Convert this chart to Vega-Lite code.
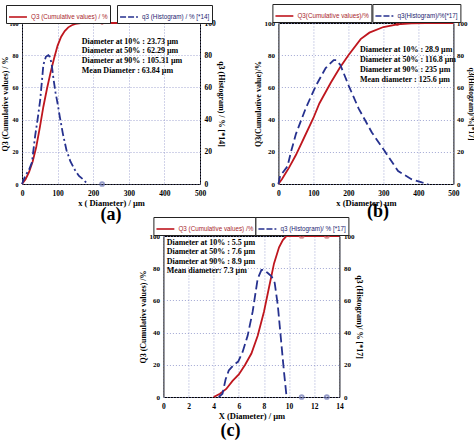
{
  "$schema": "https://vega.github.io/schema/vega-lite/v6.json",
  "padding": {"left": 0, "top": 3, "right": 0, "bottom": 0},
  "background": "white",
  "config": {
    "view": {"stroke": "black", "strokeWidth": 1},
    "font": "Liberation Serif",
    "axis": {"labelFont": "Liberation Serif", "labelFontWeight": "bold", "labelFontSize": 7, "labelColor": "black", "titleFont": "Liberation Serif", "titleFontWeight": "bold", "titleFontSize": 8, "titleColor": "black", "ticks": false, "domain": false, "gridColor": "#8a90c8", "gridDash": [1, 2], "gridWidth": 0.8, "labelPadding": 4, "titlePadding": 1, "labelOverlap": false, "labelFlush": false, "labelBound": false, "format": "d"},
    "axisX": {"labelFontSize": 7.5, "titleFontSize": 8.5, "labelPadding": 5, "titlePadding": 2},
    "legend": {"strokeColor": "#222", "fillColor": "white", "padding": 2, "labelFont": "Liberation Sans", "labelFontSize": 6.3, "symbolType": "stroke", "symbolSize": 320, "symbolStrokeWidth": 1.6, "labelOffset": 3},
    "title": {"font": "Liberation Serif", "fontWeight": "bold", "fontSize": 18, "orient": "bottom", "offset": -1}
  },
  "spacing": -9,
  "resolve": {"scale": {"color": "independent", "stroke": "independent"}},
  "vconcat": [
    {
      "hconcat": [
        {
          "width": 178, "height": 161,
          "title": {"text": "(a)", "orient": "bottom"},
          "resolve": {"scale": {"y": "independent"}},
          "layer": [
            {
              "data": {"values": [
                {"x": 0, "y": 0}, {"x": 10, "y": 3}, {"x": 20, "y": 7.5}, {"x": 30, "y": 14}, {"x": 40, "y": 23}, {"x": 50, "y": 35}, {"x": 60, "y": 48}, {"x": 70, "y": 59}, {"x": 80, "y": 69}, {"x": 90, "y": 78}, {"x": 100, "y": 86}, {"x": 110, "y": 91.5}, {"x": 120, "y": 95}, {"x": 130, "y": 97.3}, {"x": 140, "y": 98.6}, {"x": 150, "y": 99.4}, {"x": 165, "y": 99.9}, {"x": 180, "y": 100}, {"x": 225, "y": 100}, {"x": 300, "y": 100}, {"x": 400, "y": 100}, {"x": 500, "y": 100}
              ]},
              "layer": [
                {
                  "mark": {"type": "line", "strokeWidth": 1.8},
                  "encoding": {
                    "x": {"field": "x", "type": "quantitative", "scale": {"domain": [0, 500], "nice": false}, "axis": {"values": [0, 100, 200, 300, 400, 500], "tickCount": 20, "format": "d", "title": "x ( Diameter) / µm", "grid": true}},
                    "y": {"field": "y", "type": "quantitative", "scale": {"domain": [0, 100], "nice": false}, "axis": {"values": [0, 20, 40, 60, 80, 100], "tickCount": 20, "format": "d", "title": "Q3 (Cumulative values) / %", "grid": true, "labelFontSize": 6, "titlePadding": 0}},
                    "color": {"datum": "Q3 (Cumulative values) / %", "scale": {"range": ["#bf161e"]}, "legend": {"title": null, "orient": "none", "legendX": -16, "legendY": -18, "labelColor": "#a8262b"}}
                  }
                },
                {
                  "data": {"values": [{"x": 225, "y": 100}]},
                  "mark": {"type": "point", "size": 12, "filled": true, "color": "#bf161e"},
                  "encoding": {"x": {"field": "x", "type": "quantitative"}, "y": {"field": "y", "type": "quantitative"}}
                },
                {
                  "data": {"values": [{}]},
                  "mark": {"type": "text", "align": "left", "baseline": "top", "font": "Liberation Serif", "fontWeight": "bold", "fontSize": 8, "lineHeight": 9.7, "color": "black"},
                  "encoding": {
                    "x": {"datum": 168, "type": "quantitative"},
                    "y": {"datum": 90.8, "type": "quantitative"},
                    "text": {"value": ["Diameter at 10% :   23.73 µm", "Diameter at 50% :   62.29 µm", "Diameter at 90% : 105.31 µm", "Mean Diameter     :   63.84 µm"]}
                  }
                }
              ]
            },
            {
              "data": {"values": [
                {"x": 0, "y": 0}, {"x": 9, "y": 5}, {"x": 20, "y": 9}, {"x": 28, "y": 13.5}, {"x": 37, "y": 30}, {"x": 45, "y": 42}, {"x": 51, "y": 52}, {"x": 56, "y": 64}, {"x": 60, "y": 74}, {"x": 67, "y": 79}, {"x": 74, "y": 80}, {"x": 78, "y": 79}, {"x": 83, "y": 75}, {"x": 88, "y": 66}, {"x": 94, "y": 57}, {"x": 100, "y": 50}, {"x": 106, "y": 42}, {"x": 115, "y": 31}, {"x": 125, "y": 21}, {"x": 136, "y": 14}, {"x": 148, "y": 9}, {"x": 160, "y": 5}, {"x": 171, "y": 3}, {"x": 180, "y": 1}, {"x": 186, "y": 0}
              ]},
              "layer": [
                {
                  "mark": {"type": "line", "strokeWidth": 1.8, "strokeDash": [8, 3, 2, 3]},
                  "encoding": {
                    "x": {"field": "x", "type": "quantitative"},
                    "y": {"field": "y", "type": "quantitative", "scale": {"domain": [0, 100], "nice": false}, "axis": {"orient": "right", "values": [0, 20, 40, 60, 80, 100], "tickCount": 20, "format": "d", "title": "q3 (Histogram) / % [*14]", "grid": false, "labelFontSize": 7.5}},
                    "stroke": {"datum": "q3 (Histogram) / % [*14]", "scale": {"range": ["#26318f"]}, "legend": {"title": null, "orient": "none", "legendX": 95, "legendY": -18, "labelColor": "#1d2470", "symbolDash": [6, 2]}}
                  }
                },
                {
                  "data": {"values": [{"x": 225, "y": 0}]},
                  "mark": {"type": "point", "size": 14, "color": "#6a73b3"},
                  "encoding": {"x": {"field": "x", "type": "quantitative"}, "y": {"field": "y", "type": "quantitative"}}
                }
              ]
            }
          ]
        },
        {
          "width": 175, "height": 161,
          "title": {"text": "(b)", "orient": "bottom", "dx": 12, "dy": -3},
          "resolve": {"scale": {"y": "independent"}},
          "layer": [
            {
              "data": {"values": [
                {"x": 0, "y": 0}, {"x": 10, "y": 3}, {"x": 20, "y": 6.5}, {"x": 30, "y": 10}, {"x": 50, "y": 18}, {"x": 75, "y": 29.5}, {"x": 100, "y": 41}, {"x": 117, "y": 50}, {"x": 150, "y": 63}, {"x": 175, "y": 72}, {"x": 200, "y": 80}, {"x": 235, "y": 90}, {"x": 260, "y": 94}, {"x": 300, "y": 97.5}, {"x": 340, "y": 99.2}, {"x": 380, "y": 99.8}, {"x": 420, "y": 100}, {"x": 500, "y": 100}
              ]},
              "layer": [
                {
                  "mark": {"type": "line", "strokeWidth": 1.8},
                  "encoding": {
                    "x": {"field": "x", "type": "quantitative", "scale": {"domain": [0, 500], "nice": false}, "axis": {"values": [0, 100, 200, 300, 400, 500], "tickCount": 20, "format": "d", "title": "x (Diameter) µm", "grid": true}},
                    "y": {"field": "y", "type": "quantitative", "scale": {"domain": [0, 100], "nice": false}, "axis": {"values": [0, 20, 40, 60, 80, 100], "tickCount": 20, "format": "d", "title": "Q3(Cumulative value)/%", "grid": true}},
                    "color": {"datum": "Q3(Cumulative values)/%", "scale": {"range": ["#bf161e"]}, "legend": {"title": null, "orient": "none", "legendX": -6, "legendY": -19, "labelColor": "#a8262b"}}
                  }
                },
                {
                  "data": {"values": [{"x": 340, "y": 99.2}]},
                  "mark": {"type": "point", "size": 12, "filled": true, "color": "#bf161e"},
                  "encoding": {"x": {"field": "x", "type": "quantitative"}, "y": {"field": "y", "type": "quantitative"}}
                },
                {
                  "data": {"values": [{}]},
                  "mark": {"type": "text", "align": "left", "baseline": "top", "font": "Liberation Serif", "fontWeight": "bold", "fontSize": 8, "lineHeight": 10, "color": "black"},
                  "encoding": {
                    "x": {"datum": 233, "type": "quantitative"},
                    "y": {"datum": 85.9, "type": "quantitative"},
                    "text": {"value": ["Diameter at 10% : 28.9  µm", "Diameter at 50% : 116.8 µm", "Diameter at 90% : 235   µm", "Mean diameter    : 125.6 µm"]}
                  }
                }
              ]
            },
            {
              "data": {"values": [
                {"x": 0, "y": 0}, {"x": 5, "y": 5}, {"x": 12, "y": 7}, {"x": 26, "y": 11}, {"x": 36, "y": 20}, {"x": 50, "y": 31}, {"x": 78, "y": 47}, {"x": 107, "y": 61}, {"x": 135, "y": 72}, {"x": 158, "y": 77}, {"x": 165, "y": 77}, {"x": 177, "y": 74}, {"x": 201, "y": 61}, {"x": 229, "y": 47}, {"x": 267, "y": 32}, {"x": 305, "y": 20}, {"x": 342, "y": 8}, {"x": 380, "y": 3}, {"x": 410, "y": 1}, {"x": 428, "y": 0}
              ]},
              "layer": [
                {
                  "mark": {"type": "line", "strokeWidth": 1.8, "strokeDash": [8, 4]},
                  "encoding": {
                    "x": {"field": "x", "type": "quantitative"},
                    "y": {"field": "y", "type": "quantitative", "scale": {"domain": [0, 100], "nice": false}, "axis": {"orient": "right", "values": [0, 20, 40, 60, 80, 100], "tickCount": 20, "format": "d", "title": "q3(Histogram)/%[*17]", "titlePadding": 0, "titleFontSize": 7.5, "labelPadding": 3, "grid": false}},
                    "stroke": {"datum": "q3(Histogram)/%[*17]", "scale": {"range": ["#26318f"]}, "legend": {"title": null, "orient": "none", "legendX": 94, "legendY": -19, "labelColor": "#1d2470", "symbolDash": [6, 2]}}
                  }
                }
              ]
            }
          ]
        }
      ],
      "spacing": 78.4,
      "bounds": "flush",
      "resolve": {"scale": {"color": "independent", "stroke": "independent"}}
    },
    {
      "hconcat": [
        {
          "width": 1, "height": 1,
          "view": {"stroke": null},
          "data": {"values": []},
          "mark": {"type": "point", "opacity": 0},
          "encoding": {}
        },
        {
          "width": 176, "height": 161,
          "title": {"text": "(c)", "orient": "bottom", "dx": -21, "dy": 3},
          "resolve": {"scale": {"y": "independent"}},
          "layer": [
            {
              "data": {"values": [
                {"x": 4, "y": 0}, {"x": 4.5, "y": 2}, {"x": 5, "y": 5}, {"x": 5.5, "y": 10}, {"x": 6, "y": 14}, {"x": 6.5, "y": 20}, {"x": 7, "y": 27}, {"x": 7.5, "y": 38}, {"x": 8, "y": 53}, {"x": 8.4, "y": 68}, {"x": 8.8, "y": 83}, {"x": 9.2, "y": 93}, {"x": 9.5, "y": 97.5}, {"x": 9.8, "y": 100}, {"x": 11, "y": 100}, {"x": 13, "y": 100}, {"x": 14, "y": 100}
              ]},
              "layer": [
                {
                  "mark": {"type": "line", "strokeWidth": 1.8},
                  "encoding": {
                    "x": {"field": "x", "type": "quantitative", "scale": {"domain": [0, 14], "nice": false}, "axis": {"values": [0, 2, 4, 6, 8, 10, 12, 14], "tickCount": 20, "format": "d", "title": "X (Diameter) / µm", "grid": true}},
                    "y": {"field": "y", "type": "quantitative", "scale": {"domain": [0, 100], "nice": false}, "axis": {"values": [0, 20, 40, 60, 80, 100], "tickCount": 20, "format": "d", "title": "Q3 (Cumulative values) /%", "grid": true}},
                    "color": {"datum": "Q3 (Cumulative values) /%", "scale": {"range": ["#bf161e"]}, "legend": {"title": null, "orient": "none", "legendX": -10, "legendY": -19, "labelColor": "#a8262b"}}
                  }
                },
                {
                  "data": {"values": [{"x": 11, "y": 100}, {"x": 13, "y": 100}]},
                  "mark": {"type": "point", "size": 14, "color": "#c96a6e"},
                  "encoding": {"x": {"field": "x", "type": "quantitative"}, "y": {"field": "y", "type": "quantitative"}}
                },
                {
                  "data": {"values": [{}]},
                  "mark": {"type": "text", "align": "left", "baseline": "top", "font": "Liberation Serif", "fontWeight": "bold", "fontSize": 8, "lineHeight": 9.3, "color": "black"},
                  "encoding": {
                    "x": {"datum": 0.26, "type": "quantitative"},
                    "y": {"datum": 98.1, "type": "quantitative"},
                    "text": {"value": ["Diameter at 10% : 5.5 µm", "Diameter at 50% : 7.6 µm", "Diameter at 90% : 8.9 µm", "Mean diameter:      7.3 µm"]}
                  }
                }
              ]
            },
            {
              "data": {"values": [
                {"x": 4.4, "y": 0}, {"x": 4.7, "y": 2}, {"x": 4.95, "y": 11}, {"x": 5.2, "y": 16.5}, {"x": 5.6, "y": 20}, {"x": 5.95, "y": 22}, {"x": 6.3, "y": 28}, {"x": 6.7, "y": 38}, {"x": 7.1, "y": 53}, {"x": 7.5, "y": 73.5}, {"x": 7.8, "y": 79}, {"x": 8.0, "y": 79}, {"x": 8.3, "y": 77}, {"x": 8.6, "y": 75}, {"x": 8.85, "y": 71}, {"x": 9.1, "y": 57}, {"x": 9.35, "y": 36}, {"x": 9.6, "y": 15}, {"x": 9.8, "y": 0}
              ]},
              "layer": [
                {
                  "mark": {"type": "line", "strokeWidth": 1.8, "strokeDash": [9, 4]},
                  "encoding": {
                    "x": {"field": "x", "type": "quantitative"},
                    "y": {"field": "y", "type": "quantitative", "scale": {"domain": [0, 100], "nice": false}, "axis": {"orient": "right", "values": [0, 20, 40, 60, 80, 100], "tickCount": 20, "format": "d", "title": "q3 (Histogram)/ % [*17]", "grid": false}},
                    "stroke": {"datum": "q3 (Histogram)/ % [*17]", "scale": {"range": ["#26318f"]}, "legend": {"title": null, "orient": "none", "legendX": 92, "legendY": -19, "labelColor": "#1d2470", "symbolDash": [6, 2]}}
                  }
                },
                {
                  "data": {"values": [{"x": 11, "y": 0}, {"x": 13, "y": 0}]},
                  "mark": {"type": "point", "size": 14, "color": "#6a73b3"},
                  "encoding": {"x": {"field": "x", "type": "quantitative"}, "y": {"field": "y", "type": "quantitative"}}
                }
              ]
            }
          ]
        }
      ],
      "spacing": 140.4,
      "bounds": "flush",
      "resolve": {"scale": {"color": "independent", "stroke": "independent"}}
    }
  ]
}
